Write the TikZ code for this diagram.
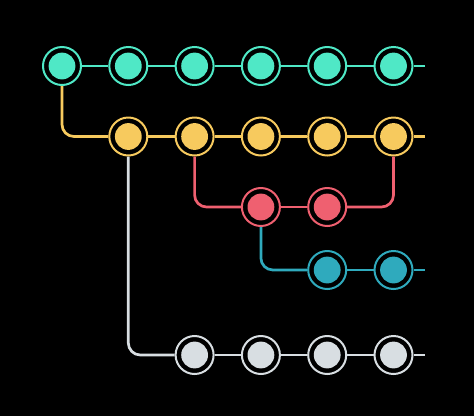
\documentclass[tikz,border=0pt]{standalone}
\usepackage{tikz}
\usetikzlibrary{positioning}

\definecolor{mint}{HTML}{4FE8C6}
\definecolor{sun}{HTML}{F7CA5E}
\definecolor{coral}{HTML}{EF6070}
\definecolor{lagoon}{HTML}{2FAABD}
\definecolor{mist}{HTML}{D8DEE2}

\tikzset{
  commit/.style={circle, draw=#1, line width=2pt, fill=black,
    minimum size=38pt, inner sep=0pt,
    path picture={\fill[#1] (path picture bounding box.center) circle (13.4pt);}},
  branch/.style={draw=#1, line width=2.7pt, rounded corners=12pt},
}

\begin{document}
\begin{tikzpicture}[x=1pt, y=-1pt]
    \fill[black] (0,0) rectangle (474,416);
    \useasboundingbox (0,0) rectangle (474,416);

    % commits, one row per branch
    \foreach \i in {1,...,6}
        \node[commit=mint] (t\i) at ({62+66.3*(\i-1)}, 66) {};
    \foreach \i in {2,...,6}
        \node[commit=sun] (y\i) at ({62+66.3*(\i-1)}, 136.5) {};
    \foreach \i in {4,5}
        \node[commit=coral] (r\i) at ({62+66.3*(\i-1)}, 207) {};
    \foreach \i in {5,6}
        \node[commit=lagoon] (b\i) at ({62+66.3*(\i-1)}, 270) {};
    \foreach \i in {3,...,6}
        \node[commit=mist] (w\i) at ({62+66.3*(\i-1)}, 355) {};

    \coordinate (tEnd) at (425,66);
    \coordinate (yEnd) at (425,136.5);
    \coordinate (bEnd) at (425,270);
    \coordinate (wEnd) at (425,355);

    % main line
    \draw[branch=mint] (t1) -- (t2) -- (t3) -- (t4) -- (t5) -- (t6) -- (tEnd);
    \draw[branch=sun] (t1.south) |- (y2.west);
    \draw[branch=sun] (y2) -- (y3) -- (y4) -- (y5) -- (y6) -- (yEnd);
    % feature branch, merged back
    \draw[branch=coral] (y3.south) |- (r4.west);
    \draw[branch=coral] (r4) -- (r5);
    \draw[branch=coral] (r5.east) -| (y6.south);
    \draw[branch=lagoon] (r4.south) |- (b5.west);
    \draw[branch=lagoon] (b5) -- (b6) -- (bEnd);
    % long running branch
    \draw[branch=mist] (y2.south) |- (w3.west);
    \draw[branch=mist] (w3) -- (w4) -- (w5) -- (w6) -- (wEnd);
\end{tikzpicture}
\end{document}
